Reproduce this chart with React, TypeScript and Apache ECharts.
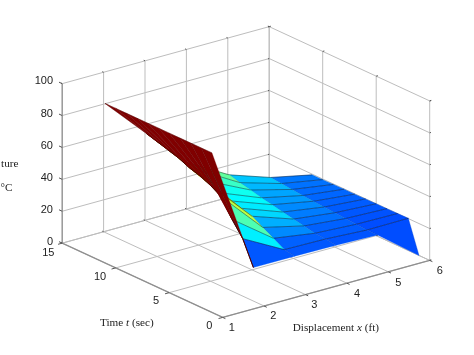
import React, { useEffect, useRef } from "react";
import * as echarts from "echarts";

const xTicks = [1, 2, 3, 4, 5, 6];
const tTicks = [0, 5, 10, 15];
const zTicks = [0, 20, 40, 60, 80, 100];
const tGrid = [1, 2, 3, 4, 5, 6, 7, 8, 9, 10, 11];
const tempX1 = [100, 100, 100, 100, 100, 100, 100, 100, 100, 100, 100];
const tempX2 = [21, 36, 45, 56, 60, 63, 65, 68, 70, 72, 74];
const tempX3 = [21, 22, 26, 29.7, 33.6, 35.5, 37, 39, 43, 47, 48.5];
const tempX4 = [20.7, 21.5, 22, 23.5, 24.7, 26, 27.5, 28.7, 30.5, 32, 33.8];
const tempX5 = [20, 20, 20.5, 21, 21.5, 22, 22.5, 23, 23.7, 24.3, 25];
const tempX6 = [0, 20.2, 20.1, 20, 20, 19.9, 19.8, 19.8, 19.7, 19.6, 19.5];
const tempRows = [tempX1, tempX2, tempX3, tempX4, tempX5, tempX6];

const zLabelPos = [
  [53, 240.5], [53, 208.5], [53, 176.5], [53, 144.5], [53, 112.5], [53, 80],
];
const tLabelPos = [[209.3, 325], [156, 300], [100, 275.7], [48.3, 251.7]];
const xLabelPos = [
  [231.7, 326.7], [273.3, 315], [314.3, 303.7], [357, 292.7], [398.3, 282], [439.7, 270],
];

const project = (x: number, t: number, z: number) => [
  222.7 + (x - 1) * 41.4 - t * 10.7,
  317.4 - (x - 1) * 11.4 - t * 4.95 - z * 1.595,
];

const jet = (v: number) => {
  const p = Math.min(1, Math.max(0, v / 100)) * 4;
  const c = (d: number) => Math.round(255 * Math.min(1, Math.max(0, 1.5 - Math.abs(p - d))));
  return `rgb(${c(3)},${c(2)},${c(1)})`;
};

type Seg = [number, number, number, number, number, number, number];
const segs: Seg[] = [];
const GRID = 0, AXIS = 1, TICK = 2;
zTicks.forEach((z) => {
  segs.push([1, 15, z, 6, 15, z, GRID]);
  segs.push([6, 15, z, 6, 0, z, GRID]);
});
xTicks.forEach((x) => {
  segs.push([x, 15, 0, x, 15, 100, GRID]);
  segs.push([x, 0, 0, x, 15, 0, GRID]);
});
tTicks.forEach((t) => {
  segs.push([6, t, 0, 6, t, 100, GRID]);
  segs.push([1, t, 0, 6, t, 0, GRID]);
});
segs.push([1, 15, 0, 1, 0, 0, AXIS]);
segs.push([1, 0, 0, 6, 0, 0, AXIS]);
segs.push([1, 15, 0, 1, 15, 100, AXIS]);

// short tick marks along every edge of the box
xTicks.forEach((x) => {
  segs.push([x, 0, 0, x, -0.25, 0, TICK]);
  segs.push([x, 15, 0, x, 15.12, 0, TICK]);
  segs.push([x, 15, 100, x, 15.12, 100, TICK]);
});
tTicks.forEach((t) => {
  segs.push([1, t, 0, 0.9, t, 0, TICK]);
  segs.push([6, t, 0, 6.04, t, 0, TICK]);
  segs.push([6, t, 100, 6.04, t, 100, TICK]);
});
zTicks.forEach((z) => {
  segs.push([1, 15, z, 1, 15.3, z, TICK]);
  segs.push([6, 15, z, 5.97, 15, z, TICK]);
  segs.push([6, 0, z, 6.03, 0, z, TICK]);
});

const quads: number[][] = [];
for (let i = xTicks.length - 2; i >= 0; i--) {
  for (let j = tGrid.length - 2; j >= 0; j--) quads.push([i, j]);
}

type Label = [string, number, number, string];
const labels: Label[] = [
  ...zTicks.map((z, i): Label => [String(z), zLabelPos[i][0], zLabelPos[i][1], "right"]),
  ...tTicks.map((t, i): Label => [String(t), tLabelPos[i][0], tLabelPos[i][1], "center"]),
  ...xTicks.map((x, i): Label => [String(x), xLabelPos[i][0], xLabelPos[i][1], "center"]),
];

const titles: [string, number, number, string][] = [
  ["Time {i|t} (sec)", 100, 322, "left"],
  ["Displacement {i|x} (ft)", 292.7, 327.3, "left"],
  ["ture", 18.5, 162.5, "right"],
  ["°C", 12.5, 186.5, "right"],
];

export default function App() {
  const ref = useRef<HTMLDivElement>(null);
  useEffect(() => {
    document.body.style.margin = "0";
    const chart = echarts.init(ref.current!, undefined, { renderer: "svg" });
    chart.setOption({
      animation: false,
      backgroundColor: "#fff",
      grid: { left: 0, right: 0, top: 0, bottom: 0 },
      xAxis: { type: "value", min: 0, max: 474, show: false },
      yAxis: { type: "value", min: 0, max: 355, inverse: true, show: false },
      series: [
        {
          type: "custom",
          silent: true,
          clip: false,
          data: segs,
          renderItem: (_p: any, api: any) => {
            const v = [0, 1, 2, 3, 4, 5, 6].map((k) => api.value(k));
            const a = api.coord(project(v[0], v[1], v[2]));
            const b = api.coord(project(v[3], v[4], v[5]));
            const kind = v[6];
            return {
              type: "line",
              shape: { x1: a[0], y1: a[1], x2: b[0], y2: b[1] },
              style: {
                stroke: kind === TICK ? "#555" : kind === AXIS ? "#8f8f8f" : "#bdbdbd",
                lineWidth: kind === TICK ? 1 : kind === AXIS ? 1.2 : 1,
              },
            };
          },
        },
        {
          type: "custom",
          silent: true,
          clip: false,
          data: quads,
          renderItem: (_p: any, api: any) => {
            const i = api.value(0);
            const j = api.value(1);
            const node = (a: number, b: number) =>
              api.coord(project(xTicks[a], tGrid[b], tempRows[a][b]));
            const points = [node(i, j), node(i + 1, j), node(i + 1, j + 1), node(i, j + 1)];
            const fill = jet(tempRows[i][j]);
            const edge = (p: number[], q: number[], alpha: number, width: number) => ({
              type: "line",
              shape: { x1: p[0], y1: p[1], x2: q[0], y2: q[1] },
              style: { stroke: `rgb(${i === 0 ? "70,0,0" : "0,0,0"})`, opacity: alpha, lineWidth: width },
            });
            return {
              type: "group",
              children: [
                { type: "polygon", shape: { points }, style: { fill, stroke: fill, lineWidth: 0.3 } },
                edge(points[3], points[2], i === 0 ? 0.35 : 0.6, 0.7),
                edge(points[0], points[3], i === 0 ? 0.6 : 0.1, 0.7),
                edge(points[1], points[2], i === 0 ? 1 : 0.1, i === 0 ? 1 : 0.7),
              ],
            };
          },
        },
        {
          type: "custom",
          silent: true,
          clip: false,
          data: labels.map((_, k) => [k]),
          renderItem: (_p: any, api: any) => {
            const l = labels[api.value(0)];
            const c = api.coord([l[1], l[2]]);
            return {
              type: "text",
              x: c[0],
              y: c[1],
              style: {
                text: l[0],
                fontFamily: "Liberation Sans",
                fontSize: 11,
                fill: "#222",
                align: l[3],
                verticalAlign: "middle",
              },
            };
          },
        },
        {
          type: "custom",
          silent: true,
          clip: false,
          data: titles.map((_, k) => [k]),
          renderItem: (_p: any, api: any) => {
            const l = titles[api.value(0)];
            const c = api.coord([l[1], l[2]]);
            return {
              type: "text",
              x: c[0],
              y: c[1],
              style: {
                text: l[0],
                fontFamily: "Liberation Serif",
                fontSize: 11.2,
                fill: "#222",
                align: l[3],
                verticalAlign: "middle",
                rich: {
                  i: { fontFamily: "Liberation Serif", fontSize: 11.2, fontStyle: "italic", fill: "#222" },
                },
              },
            };
          },
        },
      ],
    });
    return () => chart.dispose();
  }, []);
  return <div ref={ref} style={{ width: 474, height: 355, filter: "blur(0.4px)" }} />;
}
